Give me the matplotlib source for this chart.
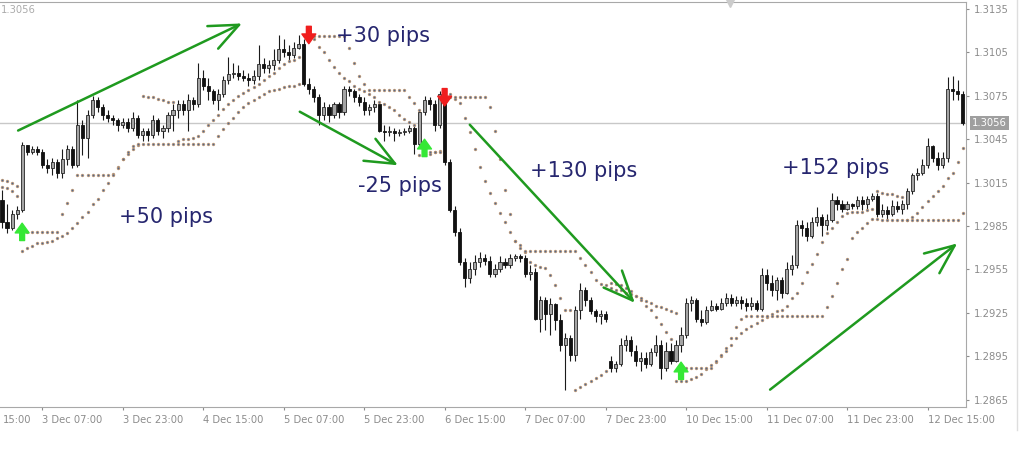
import numpy as np
import matplotlib
matplotlib.use("Agg")
import matplotlib.pyplot as plt
from matplotlib.transforms import blended_transform_factory
from matplotlib.lines import Line2D

BASE = 1.2800
PIP = 0.0001

# hourly candles, values in pips above 1.2800 (bar 0 = 2 Dec 23:00)
open_pips = [
    203, 188, 184, 193, 196, 241, 236, 238, 236, 227, 225, 229, 222, 231, 238, 227,
    255, 246, 262, 272, 267, 262, 260, 258, 255, 257, 253, 260, 248, 251, 248, 258,
    251, 253, 262, 265, 269, 265, 272, 269, 287, 282, 278, 272, 276, 286, 290, 291,
    289, 287, 286, 289, 297, 294, 296, 300, 307, 305, 303, 308, 311, 283, 280, 274,
    262, 267, 262, 269, 264, 280, 278, 274, 271, 265, 267, 269, 251, 250, 251, 249,
    250, 251, 253, 242, 264, 272, 269, 255, 276, 229, 196, 181, 160, 149, 155, 160,
    163, 161, 152, 155, 160, 158, 163, 164, 163, 152, 153, 121, 134, 124, 131, 120,
    103, 108, 96, 127, 141, 134, 126, 123, 124, 92, 87, 90, 103, 106, 99, 92,
    94, 90, 98, 103, 87, 99, 92, 103, 110, 132, 134, 121, 119, 127, 130, 128,
    132, 135, 132, 134, 132, 130, 132, 128, 151, 146, 141, 148, 139, 155, 158, 186,
    184, 178, 188, 191, 186, 189, 203, 200, 197, 200, 199, 203, 200, 204, 206, 193,
    196, 193, 199, 197, 200, 209, 220, 222, 227, 240, 232, 227, 232, 280, 278, 276,
]
high_pips = [
    210, 200, 196, 199, 243, 241, 240, 240, 238, 231, 232, 231, 238, 241, 240, 272,
    258, 265, 275, 274, 269, 265, 262, 260, 260, 260, 264, 262, 253, 253, 262, 260,
    255, 264, 269, 272, 272, 276, 274, 298, 293, 287, 280, 280, 289, 302, 298, 296,
    293, 291, 293, 310, 301, 300, 307, 317, 314, 310, 312, 317, 314, 287, 282, 276,
    271, 269, 271, 271, 282, 282, 280, 276, 274, 269, 272, 270, 255, 254, 253, 252,
    253, 255, 254, 265, 275, 274, 272, 278, 277, 231, 199, 184, 163, 160, 165, 167,
    166, 164, 159, 164, 163, 166, 166, 166, 165, 158, 156, 137, 136, 135, 132, 124,
    111, 110, 130, 146, 143, 136, 128, 127, 126, 95, 92, 108, 110, 109, 103, 98,
    98, 101, 110, 106, 105, 104, 106, 115, 135, 137, 135, 127, 130, 134, 132, 135,
    139, 138, 137, 137, 135, 136, 134, 156, 155, 151, 150, 150, 160, 165, 189, 189,
    188, 191, 198, 193, 193, 208, 206, 203, 202, 201, 206, 206, 206, 208, 208, 200,
    199, 203, 202, 203, 211, 222, 225, 231, 246, 241, 236, 236, 288, 289, 286, 278,
]
low_pips = [
    184, 180, 182, 190, 195, 234, 235, 234, 225, 222, 220, 218, 218, 227, 225, 226,
    234, 232, 260, 264, 258, 257, 255, 251, 253, 250, 251, 246, 244, 244, 246, 248,
    246, 250, 251, 260, 262, 251, 265, 267, 279, 272, 269, 265, 274, 283, 287, 286,
    285, 282, 283, 286, 291, 291, 293, 298, 302, 300, 301, 307, 282, 276, 271, 255,
    258, 257, 260, 260, 262, 275, 271, 268, 262, 262, 264, 250, 244, 247, 244, 247,
    248, 249, 235, 240, 262, 265, 251, 253, 227, 195, 178, 158, 143, 146, 151, 157,
    158, 150, 150, 153, 156, 156, 161, 160, 150, 148, 120, 112, 113, 110, 113, 99,
    72, 92, 92, 121, 130, 124, 119, 117, 119, 84, 84, 88, 99, 95, 88, 85,
    87, 88, 95, 79, 85, 90, 91, 98, 108, 126, 119, 116, 117, 126, 126, 127,
    130, 130, 130, 128, 126, 127, 126, 126, 141, 137, 134, 135, 138, 151, 156, 178,
    175, 177, 185, 178, 182, 188, 196, 195, 196, 197, 197, 196, 197, 202, 191, 191,
    189, 192, 195, 193, 197, 207, 217, 220, 225, 229, 224, 225, 229, 272, 272, 255,
]
close_pips = [
    188, 184, 193, 196, 241, 236, 238, 236, 227, 225, 229, 222, 231, 238, 227, 255,
    246, 262, 272, 267, 262, 260, 258, 255, 257, 253, 260, 248, 251, 248, 258, 251,
    253, 262, 265, 269, 265, 272, 269, 287, 282, 278, 272, 276, 286, 290, 291, 289,
    287, 286, 289, 297, 294, 296, 300, 307, 305, 303, 308, 311, 283, 280, 274, 262,
    267, 262, 269, 264, 280, 278, 274, 271, 265, 267, 269, 251, 250, 251, 249, 250,
    251, 253, 242, 264, 272, 269, 255, 276, 229, 196, 181, 160, 149, 155, 160, 163,
    161, 152, 155, 160, 158, 163, 164, 163, 152, 153, 121, 134, 124, 131, 120, 103,
    108, 96, 127, 141, 134, 126, 123, 124, 121, 87, 90, 103, 106, 99, 92, 94,
    90, 98, 103, 87, 99, 92, 103, 110, 132, 134, 121, 119, 127, 130, 128, 132,
    135, 132, 134, 132, 130, 132, 128, 151, 146, 141, 148, 139, 155, 158, 186, 184,
    178, 188, 191, 186, 189, 203, 200, 197, 200, 199, 203, 200, 204, 206, 193, 196,
    193, 199, 197, 200, 209, 220, 222, 227, 240, 232, 227, 232, 280, 278, 276, 256,
]

# parabolic SAR dots, as (first bar, values in pips)
psar_starts = [0, 4, 28, 35, 60, 83, 88, 114, 121, 134, 174, 180]
psar_values = [
    [212, 211, 209, 206],
    [168, 170, 171, 173, 173, 174, 175, 177, 178, 180, 184, 187, 191, 195, 200, 204,
     210, 215, 221, 226, 231, 235, 238, 241],
    [275, 274, 274, 273, 272, 271, 271],
    [244, 245, 245, 246, 247, 251, 255, 258, 262, 266, 269, 272, 275, 277, 279, 281,
     283, 286, 289, 291, 294, 297, 299, 300, 302],
    [317, 316, 314, 309, 305, 300, 295, 291, 287, 285, 282, 280, 278, 276, 274, 271,
     269, 267, 265, 262, 259, 257, 255],
    [234, 235, 235, 236, 237],
    [278, 276, 273, 270, 260, 250, 238, 226, 216, 208, 201, 194, 188, 181, 175, 172,
     167, 160, 158, 157, 156, 151, 144, 135, 127, 127],
    [72, 74, 76, 78, 80, 82, 85],
    [146, 145, 144, 142, 140, 137, 134, 130, 127, 122, 117, 112, 107],
    [78, 78, 78, 79, 81, 83, 86, 89, 91, 95, 99, 103, 108, 111, 114, 116, 118, 120,
     122, 124, 126, 127, 130, 135, 139, 146, 153, 159, 166, 174, 180, 184, 188, 192,
     194, 195, 195, 195, 196, 197],
    [209, 208, 207, 207, 206, 205],
    [189, 191, 194, 198, 202, 206, 209, 213, 218, 222, 229, 239],
]

# signal (stepped) SAR dots
ssar_starts = [0, 5, 62, 85, 89, 136]
ssar_values = [
    [217, 216, 215, 213],
    [181, 181, 181, 181, 181, 181, 181, 193, 201, 210, 220, 220, 220, 220, 220, 220,
     220, 220, 225, 231, 236, 240, 242, 242, 242, 242, 242, 242, 242, 242, 242, 242,
     242, 242, 242, 242, 242, 242, 247, 252, 256, 260, 264, 267, 270, 272, 274, 276,
     278, 279, 280, 281, 282, 282, 283],
    [316, 316, 316, 316, 316, 316, 316, 308, 298, 289, 283, 279, 279, 279, 279, 279,
     279, 279, 279, 274, 270, 265],
    [236, 236, 236],
    [274, 274, 274, 274, 274, 274, 274, 274, 267, 251, 231, 210, 193, 175, 170, 168,
     168, 168, 168, 168, 168, 168, 168, 168, 168, 168, 163, 158, 153, 148, 145, 144,
     142, 141, 141, 139, 138, 137, 135, 133, 132, 130, 129, 128, 126, 125],
    [87, 87, 87, 87, 87, 87, 92, 96, 101, 108, 115, 121, 123, 123, 123, 123, 123, 123,
     123, 123, 123, 123, 123, 123, 123, 123, 123, 123, 129, 137, 146, 155, 162, 177,
     181, 184, 187, 190, 190, 189, 189, 189, 189, 189, 189, 189, 189, 189, 189, 189,
     189, 189, 189, 189, 189, 194],
]

# buy / sell arrows
signal_bars = [4, 61, 84, 88, 135]
signal_pips = [181, 317, 239, 274, 85]
signal_up = [True, False, True, False, True]

# hand drawn trend arrows
trend_x0 = [3.2, 59.2, 93.0, 152.7]
trend_p0 = [251, 264, 255, 72]
trend_x1 = [47.7, 78.7, 125.8, 189.9]
trend_p1 = [325, 227, 132, 173]

label_texts = ["+50 pips", "+30 pips", "-25 pips", "+130 pips", "+152 pips"]
label_bars = [32.6, 75.7, 79.1, 115.7, 165.8]
label_pips = [191, 316, 213, 223, 225]

tick_bars = [8, 24, 40, 56, 72, 88, 104, 120, 136, 152, 168, 184]
tick_labels = ["3 Dec 07:00", "3 Dec 23:00", "4 Dec 15:00", "5 Dec 07:00",
               "5 Dec 23:00", "6 Dec 15:00", "7 Dec 07:00", "7 Dec 23:00",
               "10 Dec 15:00", "11 Dec 07:00", "11 Dec 23:00", "12 Dec 15:00"]
price_ticks = [1.2865, 1.2895, 1.2925, 1.2955, 1.2985, 1.3015, 1.3045,
               1.3075, 1.3105, 1.3135]
LAST_PRICE = 1.3056
SHIFT_BAR = 144.7

GREY = "#8c8c8c"


def price(p):
    return BASE + np.asarray(p, dtype=float) * PIP


fig = plt.figure(figsize=(10.24, 4.5), dpi=100)
ax = fig.add_axes([0.0, 1 - 407 / 450, 966 / 1024, 405 / 450])

x = np.arange(len(close_pips))
o = price(open_pips)
h = price(high_pips)
l = price(low_pips)
c = price(close_pips)
up = c >= o

# candles
ax.vlines(x, l, h, color="#1a1a1a", lw=0.8, zorder=3)
ax.bar(x[up], np.maximum((c - o)[up], 0.6 * PIP), bottom=o[up], width=0.62,
       color="#a4a4a4", edgecolor="#262626", lw=0.6, zorder=4)
ax.bar(x[~up], (o - c)[~up], bottom=c[~up], width=0.62,
       color="#111111", edgecolor="#111111", lw=0.6, zorder=4)

# SAR dots
for starts, values in [(psar_starts, psar_values), (ssar_starts, ssar_values)]:
    for s, vals in zip(starts, values):
        xs = np.arange(s, s + len(vals))
        ax.scatter(xs, price(vals), s=4, facecolor="#56698a", edgecolor="#d8a470",
                   linewidths=0.4, zorder=5)

# current price line
ax.axhline(LAST_PRICE, color="#c8c8c8", lw=1, zorder=1)

# signal arrows
for b, p, is_up in zip(signal_bars, signal_pips, signal_up):
    col = "#35e835" if is_up else "#f01e1e"
    d = 6 if is_up else -6
    ax.annotate("", xy=(b, price(p + d)), xytext=(b, price(p - d)),
                arrowprops=dict(arrowstyle="simple,head_length=0.7,head_width=1.0,tail_width=0.35",
                                color=col, mutation_scale=10, shrinkA=0, shrinkB=0),
                zorder=7)

# trend arrows
for a0, b0, a1, b1 in zip(trend_x0, trend_p0, trend_x1, trend_p1):
    ax.annotate("", xy=(a1, price(b1)), xytext=(a0, price(b0)),
                arrowprops=dict(arrowstyle="->,head_length=1.05,head_width=0.45",
                                color="#1f9a1f", lw=1.8, mutation_scale=20,
                                shrinkA=0, shrinkB=0),
                zorder=6)

for t, b, p in zip(label_texts, label_bars, label_pips):
    ax.text(b, price(p), t, fontsize=15, color="#26266f", ha="center", va="center",
            zorder=8)

ax.set_xlim(-0.4, 191.65)
ax.set_ylim(price(60.0), price(339.8))

ax.set_xticks(tick_bars)
ax.set_xticklabels(tick_labels, ha="left")
ax.set_yticks(price_ticks)
ax.set_yticklabels([f"{v:.4f}" for v in price_ticks])
ax.yaxis.tick_right()
ax.tick_params(axis="both", colors=GREY, labelcolor=GREY, labelsize=7.2,
               length=2.5, width=0.8, pad=3.5)

for side in ["top", "right", "bottom"]:
    ax.spines[side].set_color("#a8a8a8")
ax.spines["left"].set_visible(False)

# partial first time label
ax.annotate("15:00", xy=(0.2, 0), xycoords=blended_transform_factory(ax.transData, ax.transAxes),
            xytext=(0, -6), textcoords="offset points", ha="left", va="top",
            fontsize=7.2, color=GREY)

# last price box and top-left price
ax.text(1.006, LAST_PRICE, f"{LAST_PRICE:.4f}",
        transform=blended_transform_factory(ax.transAxes, ax.transData),
        ha="left", va="center", fontsize=7.2, color="white",
        bbox=dict(boxstyle="square,pad=0.2", fc="#9f9f9f", ec="none"), clip_on=False)
ax.text(0.001, 0.98, f"{LAST_PRICE:.4f}", transform=ax.transAxes, ha="left",
        va="center", fontsize=7.2, color="#ababab")

# chart shift marker
ax.plot([SHIFT_BAR], [price(339.8)], marker="v", ms=7, color="#cccccc",
        clip_on=False, zorder=9)

fig.add_artist(Line2D([1017 / 1024, 1017 / 1024], [1 - 430 / 450, 1.0],
                      color="#dedede", lw=1))

fig.savefig("out.png", dpi=100)
